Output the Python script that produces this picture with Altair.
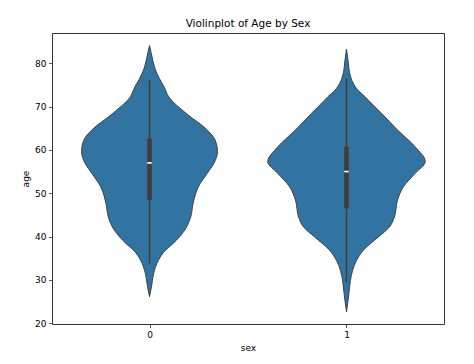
import altair as alt
import pandas as pd

# Violin outline: age vs half-width (in x-axis units)
age0 = [26.1, 28.4, 31.5, 34.5, 36.8, 38.4, 41.5, 44.5, 47.6, 51.5, 54.6, 56.9,
        59.6, 62.3, 64.6, 68.4, 72.3, 74.5, 76.5, 78.5, 80.6, 82.5, 84.1]
hw0 = [0, 0.010, 0.021, 0.045, 0.08, 0.12, 0.179, 0.209, 0.221, 0.248, 0.293, 0.327,
       0.345, 0.333, 0.293, 0.187, 0.097, 0.075, 0.05, 0.03, 0.017, 0.008, 0]
age1 = [22.6, 25.3, 27.6, 29.9, 32.2, 34.5, 36.8, 39.9, 42.2, 44.5, 48.4, 51.5,
        54.6, 57.3, 60.7, 64.6, 68.4, 70.6, 72.3, 73.7, 75.5, 77.6, 80.6, 83.3]
hw1 = [0, 0.008, 0.014, 0.02, 0.031, 0.051, 0.085, 0.162, 0.218, 0.243, 0.259, 0.289,
       0.349, 0.400, 0.349, 0.259, 0.179, 0.13, 0.094, 0.06, 0.033, 0.017, 0.008, 0]

# Inner box statistics per sex
sexes = [0, 1]
q1 = [48.4, 46.5]
q3 = [62.6, 60.7]
median = [57.0, 55.0]
wlo = [33.8, 29.5]
whi = [76.1, 76.5]

rows = []
for s, ages, hws in [(0, age0, hw0), (1, age1, hw1)]:
    for a, h in zip(ages, hws):
        rows.append({"sex": s, "age": a, "lo": s - h, "hi": s + h})
vdf = pd.DataFrame(rows)
bdf = pd.DataFrame({"sex": sexes, "q1": q1, "q3": q3, "median": median,
                    "wlo": wlo, "whi": whi})

xscale = alt.Scale(domain=[-0.495, 1.495], nice=False, zero=False)
yscale = alt.Scale(domain=[19.8, 87], nice=False, zero=False)
xaxis = alt.Axis(values=[0, 1], format="d", title="sex", grid=False)
yaxis = alt.Axis(values=[20, 30, 40, 50, 60, 70, 80], title="age", grid=False)

fill = "#3274a1"
line = "#3f3f3f"

violin = alt.Chart(vdf).mark_area(
    orient="horizontal", interpolate="monotone", fill=fill,
    stroke=line, strokeWidth=1
).encode(
    y=alt.Y("age:Q", scale=yscale, axis=yaxis),
    x=alt.X("lo:Q", scale=xscale, axis=xaxis),
    x2="hi:Q",
    detail="sex:N",
)

whisk = alt.Chart(bdf).mark_rule(color=line, strokeWidth=1.6).encode(
    x=alt.X("sex:Q", scale=xscale, axis=xaxis),
    y=alt.Y("wlo:Q", scale=yscale, axis=yaxis),
    y2="whi:Q",
)
box = alt.Chart(bdf).mark_rule(color=line, strokeWidth=4.8).encode(
    x=alt.X("sex:Q", scale=xscale, axis=xaxis),
    y=alt.Y("q1:Q", scale=yscale, axis=yaxis),
    y2="q3:Q",
)
med = alt.Chart(bdf).mark_tick(color="white", orient="horizontal", size=4.5,
                               thickness=1.6, opacity=1).encode(
    x=alt.X("sex:Q", scale=xscale, axis=xaxis),
    y=alt.Y("median:Q", scale=yscale, axis=yaxis),
)

chart = alt.layer(violin, whisk, box, med).properties(
    width=392, height=291,
    title=alt.TitleParams("Violinplot of Age by Sex", fontSize=10.5,
                          font="DejaVu Sans", fontWeight="normal",
                          color="black", anchor="middle", frame="group",
                          offset=4),
    autosize=alt.AutoSizeParams(type="none"),
    padding={"left": 44, "top": 25, "right": 22, "bottom": 30},
).configure_view(
    stroke="#333333", strokeWidth=1
).configure_axis(
    domain=False, tickColor="#333333", tickSize=3.5, tickWidth=0.8,
    labelFont="DejaVu Sans", labelFontSize=9, labelColor="black",
    labelPadding=2.5, titleFont="DejaVu Sans", titleFontSize=9,
    titleFontWeight="normal", titleColor="black", titlePadding=4,
)

chart.save("out.html", embed_options={"renderer": "svg", "actions": False})
